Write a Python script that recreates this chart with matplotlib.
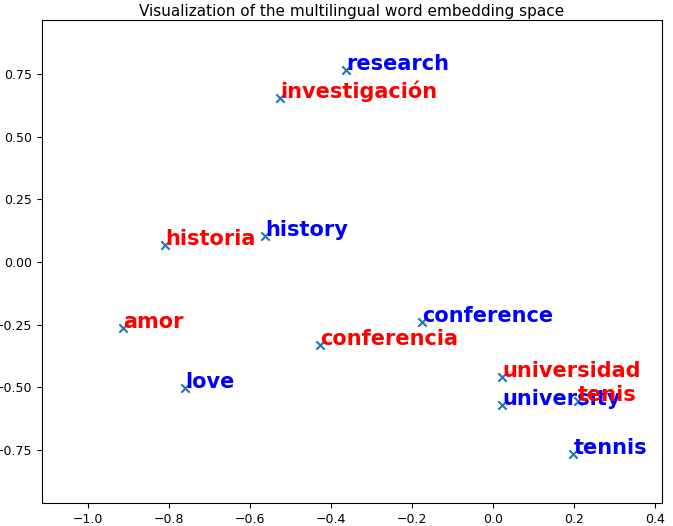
import matplotlib
matplotlib.use("Agg")
import matplotlib.pyplot as plt

words = ["research", "investigación", "history", "historia", "amor", "conference",
         "conferencia", "love", "universidad", "university", "tenis", "tennis"]
xs = [-0.363, -0.526, -0.563, -0.810, -0.914, -0.175, -0.427, -0.760, 0.022, 0.022, 0.210, 0.198]
ys = [0.766, 0.654, 0.104, 0.068, -0.263, -0.239, -0.331, -0.503, -0.459, -0.570, -0.555, -0.766]
colors = ["blue", "red", "blue", "red", "red", "blue", "red", "blue", "red", "blue", "red", "blue"]

fig = plt.figure(figsize=(6.73, 5.26), dpi=100)
ax = fig.add_axes([42/673, 1-503/526, 620/673, 483/526])
ax.scatter(xs, ys, marker="x")
for w, x, y, c in zip(words, xs, ys, colors):
    ax.text(x, y, w, color=c, fontsize=15, fontweight="bold")
ax.set_xlim(-1.114, 0.417)
ax.set_ylim(-0.961, 0.965)
ax.set_title("Visualization of the multilingual word embedding space", fontsize=11, pad=3)
ax.tick_params(labelsize=9)
fig.savefig("out.png", dpi=100)
